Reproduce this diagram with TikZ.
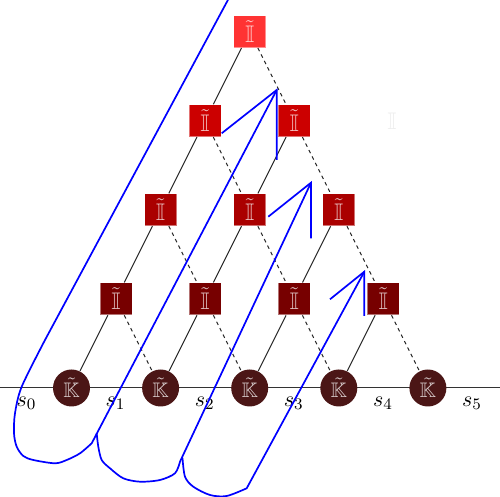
\documentclass[tikz,border=0pt]{standalone}
\usepackage{amssymb}
\definecolor{rowd}{HTML}{FF3333}
\definecolor{rowc}{HTML}{CC0000}
\definecolor{rowb}{HTML}{AA0000}
\definecolor{rowa}{HTML}{770000}
\definecolor{kbrown}{HTML}{4B1616}
\begin{document}
\begin{tikzpicture}[x=0.5pt,y=-0.5pt,
  sq/.style={rectangle, minimum size=16pt, inner sep=0pt, draw=white, draw opacity=0.45, text=white, text opacity=0.75, font=\large},
  kc/.style={circle, minimum size=18.5pt, inner sep=0pt, fill=kbrown, text=white!80!kbrown, font=\fontsize{10.5}{12}\selectfont},
  lbl/.style={font=\fontsize{11}{13}\selectfont},
  solidedge/.style={draw=black!85, line width=0.5pt},
  dashededge/.style={draw=black!85, line width=0.5pt, dash pattern=on 1.8pt off 1.8pt},
  blueline/.style={draw=blue, line width=0.85pt, line join=round}]
\useasboundingbox (0,0) rectangle (500,497);
\clip (0,0) rectangle (500,497);
% base line
\coordinate (bl) at (0,388);
\coordinate (br) at (500,388);
\draw[black!80, line width=0.5pt] (bl) -- (br);
% circles
\foreach \i in {0,...,4}
  \node[kc] (k\i) at ({71.5+89.1*\i},388) {$\tilde{\mathbb{K}}$};
% labels
\foreach \i in {0,...,5}
  \node[lbl] (s\i) at ({26.5+89.1*\i},403) {$s_{\i}$};
% squares
\foreach \k/\c in {1/rowa,2/rowb,3/rowc,4/rowd} {
  \pgfmathtruncatemacro\n{4-\k}
  \foreach \j in {0,...,\n}
    \node[sq, fill=\c] (q\k\j) at ({71.5+44.55*\k+89.1*\j},{388-89.1*\k}) {$\tilde{\mathbb{I}}$};
}
% edges row 1 to circles
\foreach \j in {0,...,3} {
  \pgfmathtruncatemacro\jp{\j+1}
  \draw[solidedge] (q1\j) -- (k\j);
  \draw[dashededge] (q1\j) -- (k\jp);
}
% edges between rows
\foreach \k in {2,3,4} {
  \pgfmathtruncatemacro\km{\k-1}
  \pgfmathtruncatemacro\n{4-\k}
  \foreach \j in {0,...,\n} {
    \pgfmathtruncatemacro\jp{\j+1}
    \draw[solidedge] (q\k\j) -- (q\km\j);
    \draw[dashededge] (q\k\j) -- (q\km\jp);
  }
}
% ghost
\node[text=black!7, font=\large] (ghost) at (392,121) {$\mathbb{I}$};
% blue arrows
\coordinate (a1) at (276.7,90);
\coordinate (a1l) at (221.7,133.3);
\coordinate (a1d) at (276.7,160);
\coordinate (a2) at (311,182.7);
\coordinate (a2l) at (268.3,216.7);
\coordinate (a2d) at (311,238.3);
\coordinate (a3) at (364.3,271.7);
\coordinate (a3l) at (330,299.3);
\coordinate (a3d) at (364.3,316);
\coordinate (top) at (233.3,-10);
\draw[blueline] (top) -- (45,340) -- plot[smooth] coordinates {(45,340) (21.7,386.7) (15,413.3) (14,433.3) (16.7,446.7) (23.3,456) (33.3,460) (55,463.3) (66.7,460) (80,453.3) (91.7,443.3)} -- (a1);
\draw[blueline] plot[smooth] coordinates {(96.7,433.3) (98.3,446.7) (101.7,460) (110,468.3) (123.3,478.3) (140,481.7) (160,480) (175,473.3) (180,461.7)} -- (a2);
\draw[blueline] plot[smooth] coordinates {(182.5,458) (185,476.7) (193.3,486.7) (210,495) (226.7,496) (246.7,488.3)} -- (a3);
\draw[blueline, line join=miter] (a1l) -- (a1) -- (a1d);
\draw[blueline, line join=miter] (a2l) -- (a2) -- (a2d);
\draw[blueline, line join=miter] (a3l) -- (a3) -- (a3d);
\end{tikzpicture}
\end{document}
